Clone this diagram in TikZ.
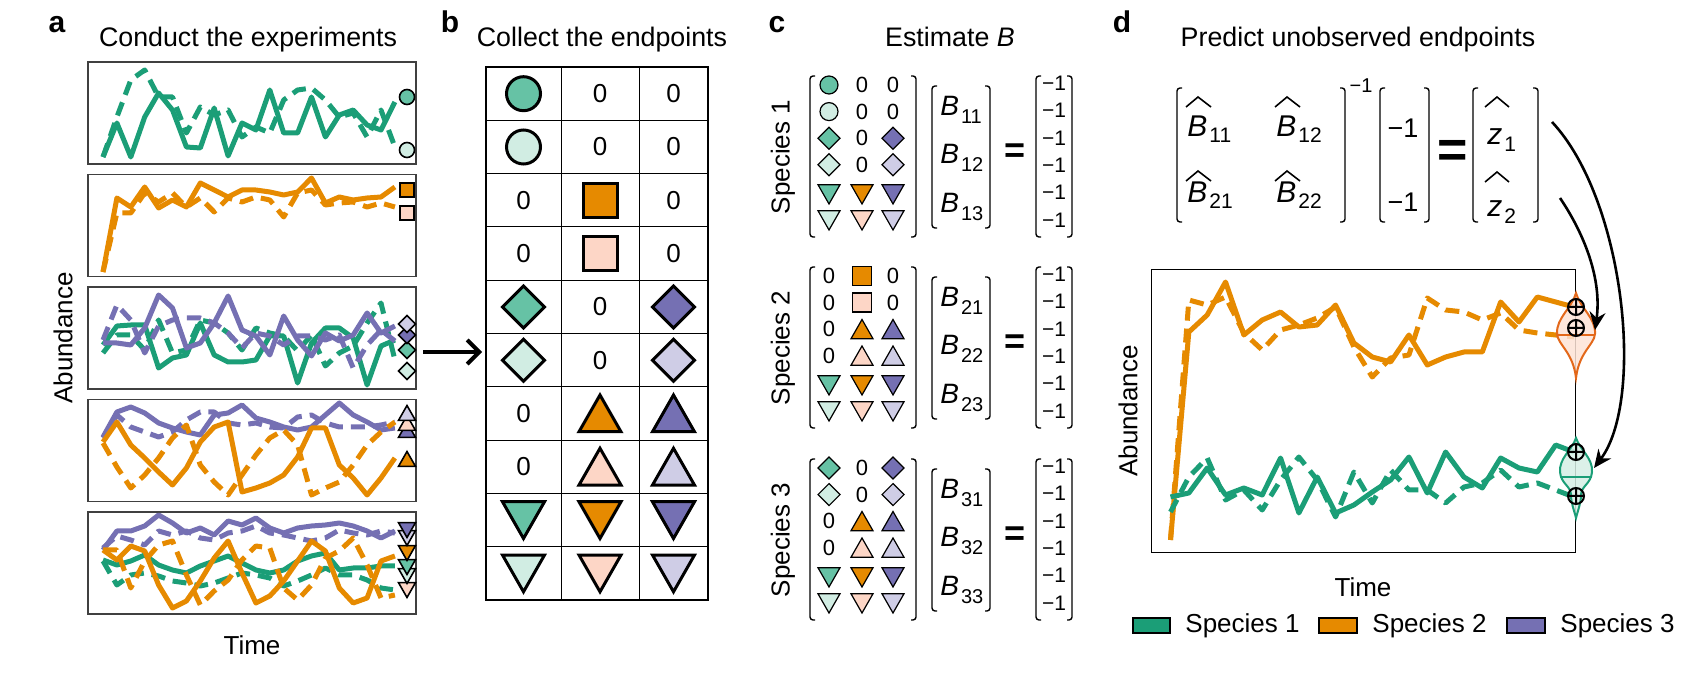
\documentclass[tikz,border=0pt]{standalone}
\usepackage{fontspec}
\setmainfont{Liberation Sans}
\usetikzlibrary{arrows.meta}

\definecolor{sgreen}{HTML}{1B9E77}
\definecolor{sorange}{HTML}{E68A00}
\definecolor{spurple}{HTML}{7570B3}
\definecolor{mgreen}{HTML}{66C2A5}
\definecolor{lgreen}{HTML}{D1EDE3}
\definecolor{lorange}{HTML}{FDD6C6}
\definecolor{lpurple}{HTML}{CFCDE6}
\definecolor{vorange}{HTML}{E3681A}
\definecolor{vofill}{HTML}{FDE3D6}
\definecolor{vgfill}{HTML}{D6EFE5}

\tikzset{
  sol/.style={line width=2.5pt, line join=round},
  dsh/.style={line width=2.5pt, line join=round, dash pattern=on 7pt off 4pt},
  mk/.style={draw=black, line width=0.8pt},
  boxa/.style={draw=black!75, line width=0.8pt},
  brk/.style={line width=0.7pt, rounded corners=1.5pt},
  txt/.style={font=\fontsize{13}{15}\selectfont, inner sep=0pt},
  ttl/.style={font=\fontsize{13.4}{15}\selectfont, inner sep=0pt, anchor=base},
  lbl/.style={font=\fontsize{15}{17}\selectfont\bfseries, inner sep=0pt, anchor=base},
  zer/.style={font=\fontsize{13}{15}\selectfont, inner sep=0pt},
  zerc/.style={font=\fontsize{11}{12}\selectfont, inner sep=0pt},
  bc/.style={font=\fontsize{14}{16}\selectfont, inner sep=0pt, anchor=west},
  mone/.style={font=\fontsize{10.5}{11}\selectfont, inner sep=0pt},
  eqc/.style={font=\fontsize{18}{19}\selectfont\bfseries, inner sep=0pt},
  dtx/.style={font=\fontsize{15}{17}\selectfont, inner sep=0pt, anchor=base west},
  hatln/.style={line width=0.8pt},
  arr/.style={line width=1.3pt, -{Stealth[length=9pt,width=8pt]}},
  bar/.style={line width=2pt, -{Straight Barb[length=6pt,width=12pt,line width=2pt]}},
}

% polyline on a fixed time grid: style, x0, dx, y0, rest of y
\newcommand{\series}[5]{\draw[#1] (#2,#4) \foreach \yv [count=\i] in {#5} { -- ({#2+\i*#3},\yv) };}
% markers: x, y, half size, fill
\newcommand{\mkcirc}[4]{\draw[mk,fill=#4] (#1,#2) circle[radius=#3];}
\newcommand{\mksq}[4]{\draw[mk,fill=#4] (#1-#3,#2-#3) rectangle (#1+#3,#2+#3);}
\newcommand{\mkdia}[4]{\draw[mk,fill=#4] (#1,#2-#3) -- (#1+#3,#2) -- (#1,#2+#3) -- (#1-#3,#2) -- cycle;}
\newcommand{\mkup}[4]{\draw[mk,fill=#4] (#1,#2-#3) -- (#1+#3,#2+0.75*#3) -- (#1-#3,#2+0.75*#3) -- cycle;}
\newcommand{\mkdn}[4]{\draw[mk,fill=#4] (#1,#2+#3) -- (#1+#3,#2-0.75*#3) -- (#1-#3,#2-0.75*#3) -- cycle;}
\newcommand{\oplusmk}[2]{\draw[line width=1pt] (#1,#2) circle[radius=8] (#1-8,#2) -- (#1+8,#2) (#1,#2-8) -- (#1,#2+8);}
% brackets: x, top, bottom
\newcommand{\lbrk}[3]{\draw[brk] (#1+5,#2) -- (#1,#2) -- (#1,#3) -- (#1+5,#3);}
\newcommand{\rbrk}[3]{\draw[brk] (#1-5,#2) -- (#1,#2) -- (#1,#3) -- (#1-5,#3);}
\newcommand{\Bc}[1]{\textit{B}\kern1pt\raisebox{-4pt}{\fontsize{10}{11}\selectfont #1}}
\newcommand{\Bd}[1]{\textit{B}\kern1pt\raisebox{-3pt}{\fontsize{10.5}{11}\selectfont #1}}
\newcommand{\zd}[1]{\textit{z}\kern1pt\raisebox{-3.5pt}{\fontsize{10.5}{11}\selectfont #1}}

\begin{document}
\begin{tikzpicture}[x=0.5pt,y=-0.5pt]
\useasboundingbox (0,0) rectangle (1702,694);

%%%%% a %%%%%
\node[lbl] (la) at (57,33) {a};
\node[ttl] (ta) at (248,47) {Conduct the experiments};
\foreach \t in {62,174.5,287,399.5,512} \draw[boxa] (88,\t) rectangle (416,\t+102);

\series{dsh,sgreen}{103}{13.9}{157}{117,80,70,97,97,133,107,115,110,137,127,133,100,90,88,100,117,113,137,110,147}
\series{sol,sgreen}{103}{13.9}{157}{123,157,117,93,110,147,148,108,156,123,130,90,133,133,97,137,115,110,125,130,102}
\mkcirc{407}{97}{7.5}{mgreen}
\mkcirc{407}{150}{7.5}{lgreen}

\series{dsh,sorange}{103}{13.9}{272}{213,213,193,202,193,207,198,212,198,202,197,200,217,193,190,205,203,202,207,203,207}
\series{sol,sorange}{103}{13.9}{272}{198,207,187,208,200,207,183,190,197,190,190,192,195,192,178,203,197,200,198,197,187}
\mksq{407}{190}{7}{sorange}
\mksq{407}{213}{7}{lorange}

\series{dsh,sgreen}{103}{13.9}{353}{335,335,350,320,353,350,320,323,333,350,328,333,336,351,335,366,353,346,323,303,360}
\series{sol,sgreen}{103}{13.9}{345}{326,325,325,368,358,355,323,355,362,362,360,336,336,383,343,328,328,338,385,346,340}
\series{dsh,spurple}{103}{13.9}{340}{305,320,353,326,320,318,318,323,333,348,333,336,345,336,336,340,335,368,345,330,341}
\series{sol,spurple}{103}{13.9}{343}{343,345,328,295,308,348,343,323,296,330,336,355,316,340,356,333,341,335,313,333,326}
\mkdia{407}{371}{8.5}{lgreen}
\mkdia{407}{350}{8.5}{mgreen}
\mkdia{407}{335}{8.5}{spurple}
\mkdia{407}{324}{8.5}{lpurple}

\series{dsh,spurple}{103}{13.9}{438}{415,427,432,437,432,420,412,412,423,425,423,427,428,417,415,423,427,427,427,425,422}
\series{sol,spurple}{103}{13.9}{437}{412,407,413,423,428,432,435,415,413,405,418,422,427,430,427,415,403,415,422,430,428}
\series{dsh,sorange}{103}{13.9}{443}{467,488,475,458,438,425,465,482,495,475,455,438,430,445,495,488,482,465,445,432,422}
\series{sol,sorange}{103}{13.9}{442}{422,445,458,472,485,468,442,427,422,492,488,483,475,457,428,428,465,478,495,478,458}
\mkup{407}{460}{8.5}{sorange}
\mkup{407}{431}{8.5}{spurple}
\mkup{407}{424}{8.5}{lorange}
\mkup{407}{414}{8.5}{lpurple}

\series{dsh,spurple}{103}{13.9}{548}{536,540,545,531,535,531,538,540,533,531,526,533,535,538,541,538,530,533,535,531,533}
\series{sol,spurple}{103}{13.9}{550}{531,531,526,515,523,533,528,535,521,525,518,528,533,528,526,525,523,526,531,538,531}
\series{dsh,sgreen}{103}{13.9}{561}{585,575,573,576,581,583,586,583,578,573,575,578,586,581,575,568,575,575,580,588,590}
\series{sol,sgreen}{103}{13.9}{560}{565,561,555,565,570,573,566,561,556,563,570,573,570,561,556,553,570,568,568,566,566}
\series{dsh,sorange}{103}{13.9}{550}{550,588,561,545,541,575,605,591,580,560,546,548,588,600,585,558,551,538,565,598,595}
\series{sol,sorange}{103}{13.9}{550}{560,546,551,585,608,601,581,558,541,573,603,596,581,561,541,551,588,603,598,561,556}
\mkdn{407}{589}{8.5}{lorange}
\mkdn{407}{575}{8.5}{lgreen}
\mkdn{407}{566}{8.5}{mgreen}
\mkdn{407}{552}{8.5}{sorange}
\mkdn{407}{537}{8.5}{lpurple}
\mkdn{407}{529}{8.5}{spurple}

\node[txt,rotate=90] (aba) at (63,338) {Abundance};
\node[txt] (tia) at (252,645) {Time};

\coordinate (aout) at (423,352);
\coordinate (bin) at (482,352);
\draw[bar] (aout) -- (bin);

%%%%% b %%%%%
\node[lbl] (lb) at (450,33) {b};
\node[ttl] (tb) at (602,47) {Collect the endpoints};
\foreach \k in {1,...,9} \draw[line width=0.5pt] (486,67+53.3*\k) -- (708,67+53.3*\k);
\draw[line width=0.5pt] (561,67) -- (561,600) (639,67) -- (639,600);
\draw[line width=1.2pt] (486,67) rectangle (708,600);
\begin{scope}[mk/.style={draw=black, line width=1.5pt}]
\mkcirc{523.5}{93.7}{17}{mgreen}
\mkcirc{523.5}{147}{17}{lgreen}
\mksq{600}{200.3}{17}{sorange}
\mksq{600}{253.6}{17}{lorange}
\mkdia{523.5}{306.9}{21}{mgreen}
\mkdia{673.5}{306.9}{21}{spurple}
\mkdia{523.5}{360.2}{21}{lgreen}
\mkdia{673.5}{360.2}{21}{lpurple}
\mkup{600}{416}{21}{sorange}
\mkup{673.5}{416}{21}{spurple}
\mkup{600}{469.3}{21}{lorange}
\mkup{673.5}{469.3}{21}{lpurple}
\mkdn{523.5}{517.5}{21}{mgreen}
\mkdn{600}{517.5}{21}{sorange}
\mkdn{673.5}{517.5}{21}{spurple}
\mkdn{523.5}{570.8}{21}{lgreen}
\mkdn{600}{570.8}{21}{lorange}
\mkdn{673.5}{570.8}{21}{lpurple}
\end{scope}
\foreach \c/\r [count=\n] in {600/93.7,673.5/93.7,600/147,673.5/147,523.5/200.3,673.5/200.3,
    523.5/253.6,673.5/253.6,600/306.9,600/360.2,523.5/413.5,523.5/466.8}
  \node[zer] (zb\n) at (\c,\r) {0};

%%%%% c %%%%%
\node[lbl] (lc) at (777,33) {c};
\node[ttl] (tc) at (950,47) {Estimate \textit{B}};
\begin{scope}[mk/.style={draw=black, line width=0.6pt}]
\foreach \s/\o in {1/0,2/191,3/383}{
  \lbrk{810}{76+\o}{237+\o}
  \rbrk{916}{76+\o}{237+\o}
  \lbrk{932}{86+\o}{228+\o}
  \rbrk{990}{86+\o}{228+\o}
  \lbrk{1036}{76+\o}{237+\o}
  \rbrk{1072}{76+\o}{237+\o}
  \node[txt,rotate=90] (sp\s) at (783,157+\o) {Species \s};
  \foreach \j/\yy in {1/110,2/158,3/207} \node[bc] (B\s\j) at (940,\yy+\o) {\Bc{\s\j}};
  \node[eqc] (eq\s) at (1015,153+\o) {=};
  \foreach \k in {0,...,5} \node[mone] (m\s\k) at (1054,83+27.4*\k+\o) {−1};
  \mkdn{829}{193+\o}{11}{mgreen}
  \mkdn{862}{193+\o}{11}{sorange}
  \mkdn{893}{193+\o}{11}{spurple}
  \mkdn{829}{219+\o}{11}{lgreen}
  \mkdn{862}{219+\o}{11}{lorange}
  \mkdn{893}{219+\o}{11}{lpurple}
}
% species 1
\mkcirc{829}{85}{9}{mgreen}
\mkcirc{829}{111.6}{9}{lgreen}
\mkdia{829}{138.2}{11}{mgreen}
\mkdia{893}{138.2}{11}{spurple}
\mkdia{829}{164.8}{11}{lgreen}
\mkdia{893}{164.8}{11}{lpurple}
% species 2
\mksq{862}{276}{9.5}{sorange}
\mksq{862}{302.6}{9.5}{lorange}
\mkup{862}{330.5}{11}{sorange}
\mkup{893}{330.5}{11}{spurple}
\mkup{862}{357}{11}{lorange}
\mkup{893}{357}{11}{lpurple}
% species 3
\mkdia{829}{468}{11}{mgreen}
\mkdia{893}{468}{11}{spurple}
\mkdia{829}{494.6}{11}{lgreen}
\mkdia{893}{494.6}{11}{lpurple}
\mkup{862}{522.5}{11}{sorange}
\mkup{893}{522.5}{11}{spurple}
\mkup{862}{549}{11}{lorange}
\mkup{893}{549}{11}{lpurple}
\end{scope}
\foreach \c/\r [count=\n] in {862/85,893/85,862/111.6,893/111.6,862/138.2,862/164.8,
    829/276,893/276,829/302.6,893/302.6,829/329.2,829/355.8,
    862/468,862/494.6,829/521.2,829/547.8}
  \node[zerc] (zc\n) at (\c,\r) {0};

%%%%% d %%%%%
\node[lbl] (ld) at (1122,33) {d};
\node[ttl] (td) at (1358,47) {Predict unobserved endpoints};
\lbrk{1177}{88}{222}
\rbrk{1345}{88}{222}
\lbrk{1380}{88}{222}
\rbrk{1429}{88}{222}
\lbrk{1473}{88}{222}
\rbrk{1538}{88}{222}
\node[dtx] (b11) at (1187,137) {\Bd{11}};
\node[dtx] (b12) at (1276,137) {\Bd{12}};
\node[dtx] (b21) at (1187,203) {\Bd{21}};
\node[dtx] (b22) at (1276,203) {\Bd{22}};
\draw[hatln] (1186,107) -- (1198,97) -- (1211,107);
\draw[hatln] (1275,107) -- (1287,97) -- (1300,107);
\draw[hatln] (1186,181) -- (1198,171) -- (1211,181);
\draw[hatln] (1275,181) -- (1287,171) -- (1300,181);
\node[mone,font=\fontsize{10}{11}\selectfont] (inv) at (1361,86) {−1};
\node[txt,font=\fontsize{13.5}{15}\selectfont] (n1) at (1403,128) {−1};
\node[txt,font=\fontsize{13.5}{15}\selectfont] (n2) at (1403,202) {−1};
\node[eqc,font=\fontsize{26}{27}\selectfont\bfseries] (eqd) at (1453,154) {=};
\node[dtx] (z1) at (1487,145) {\zd{1}};
\node[dtx] (z2) at (1487,217) {\zd{2}};
\draw[hatln] (1485,107) -- (1497,97) -- (1509,107);
\draw[hatln] (1485,182) -- (1497,172) -- (1509,182);

\draw[line width=0.5pt] (1151,270) rectangle (1575,553);
\series{dsh,sorange}{1170.5}{18.34}{540}{300,305,297,333,350,330,325,318,307,347,377,358,355,298,310,312,320,313,330,333,335,337}
\series{sol,sorange}{1170.5}{18.34}{540}{332,315,282,335,320,312,327,325,305,343,357,362,335,365,357,352,352,302,322,297,302,307}
\series{dsh,sgreen}{1170.5}{18.34}{512}{477,458,500,490,510,480,457,480,517,472,503,470,490,490,503,487,483,470,487,483,490,497}
\series{sol,sgreen}{1170.5}{18.34}{497}{493,468,495,488,495,458,513,477,513,505,492,480,457,493,452,477,488,458,468,472,445,452}

\draw[line width=1pt,draw=vorange,fill=vofill,fill opacity=0.85] (1576,293) .. controls (1580,308) and (1596,318) .. (1595,334)
  .. controls (1594,345) and (1579,352) .. (1576,378) .. controls (1573,352) and (1558,345) .. (1557,334)
  .. controls (1556,318) and (1572,308) .. cycle;
\draw[line width=1pt,draw=vorange] (1557,335) -- (1595,335);
\draw[line width=1pt,draw=sgreen,fill=vgfill,fill opacity=0.85] (1576,438) .. controls (1580,450) and (1593,458) .. (1592,472)
  .. controls (1591,484) and (1581,486) .. (1581,495) .. controls (1581,503) and (1578,510) .. (1576,518)
  .. controls (1574,510) and (1571,503) .. (1571,495) .. controls (1571,486) and (1561,484) .. (1560,472)
  .. controls (1559,458) and (1572,450) .. cycle;
\draw[line width=1pt,draw=sgreen] (1560,477) -- (1592,477);
\oplusmk{1576}{307}
\oplusmk{1576}{328}
\oplusmk{1576}{452}
\oplusmk{1576}{496}

\node[txt,rotate=90] (abd) at (1128,411) {Abundance};
\node[txt] (tid) at (1363,587) {Time};

\coordinate (z1s) at (1552,122);
\coordinate (z2s) at (1560,198);
\coordinate (vg) at (1594,468);
\coordinate (vo) at (1595,330);
\draw[arr] (z1s) .. controls (1625,200) and (1645,400) .. (vg);
\draw[arr] (z2s) .. controls (1585,235) and (1602,280) .. (vo);

\draw[line width=1.2pt,fill=sgreen] (1133,618) rectangle (1170,633);
\node[txt,anchor=west] (lg1) at (1185,626) {Species 1};
\draw[line width=1.2pt,fill=sorange] (1319,618) rectangle (1357,633);
\node[txt,anchor=west] (lg2) at (1372,626) {Species 2};
\draw[line width=1.2pt,fill=spurple] (1507,618) rectangle (1545,633);
\node[txt,anchor=west] (lg3) at (1560,626) {Species 3};
\end{tikzpicture}
\end{document}
